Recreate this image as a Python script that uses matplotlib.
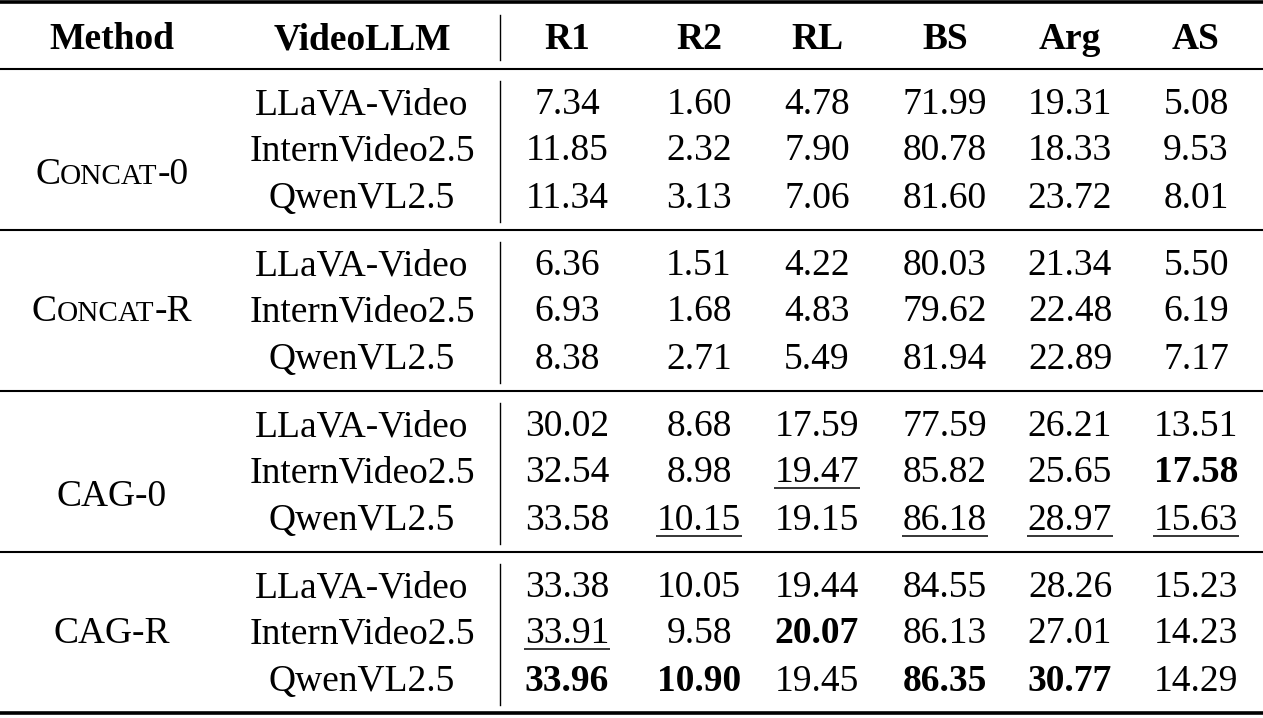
import numpy as np
import matplotlib.pyplot as plt

plt.rc('font', family='Liberation Serif')

# table contents
methods = ['CONCAT-0', 'CONCAT-R', 'CAG-0', 'CAG-R']
smallcaps = [True, True, False, False]
models = ['LLaVA-Video', 'InternVideo2.5', 'QwenVL2.5']
metrics = ['R1', 'R2', 'RL', 'BS', 'Arg', 'AS']

concat_0 = [[7.34, 1.60, 4.78, 71.99, 19.31, 5.08],
            [11.85, 2.32, 7.90, 80.78, 18.33, 9.53],
            [11.34, 3.13, 7.06, 81.60, 23.72, 8.01]]
concat_r = [[6.36, 1.51, 4.22, 80.03, 21.34, 5.50],
            [6.93, 1.68, 4.83, 79.62, 22.48, 6.19],
            [8.38, 2.71, 5.49, 81.94, 22.89, 7.17]]
cag_0 = [[30.02, 8.68, 17.59, 77.59, 26.21, 13.51],
         [32.54, 8.98, 19.47, 85.82, 25.65, 17.58],
         [33.58, 10.15, 19.15, 86.18, 28.97, 15.63]]
cag_r = [[33.38, 10.05, 19.44, 84.55, 28.26, 15.23],
         [33.91, 9.58, 20.07, 86.13, 27.01, 14.23],
         [33.96, 10.90, 19.45, 86.35, 30.77, 14.29]]

vals = np.array([concat_0, concat_r, cag_0, cag_r])   # (group, model, metric)
flat = vals.reshape(-1, len(metrics))
# best per column -> bold, second best -> underline
order = np.argsort(-flat, axis=0)
best = flat[order[0], np.arange(len(metrics))]
second = flat[order[1], np.arange(len(metrics))]

W, H = 1263, 718
fig = plt.figure(figsize=(W / 100, H / 100), dpi=100)
ax = fig.add_axes([0, 0, 1, 1])
ax.set_xlim(0, W)
ax.set_ylim(H, 0)
ax.axis('off')

fs = 27
col_x = [112, 362, 567, 699, 817, 945, 1070, 1196]
div_x = 500
header_y = 37
top_rule, head_rule, bottom_rule = 1.8, 69, 713
group_top = [69, 230, 391, 552]
row_off = [33, 79, 127]
base = 12.3   # text centre -> baseline

r = fig.canvas.get_renderer()


def put(x, y, s, bold=False, under=False, size=fs):
    t = ax.text(x, y + base, s, ha='center', va='baseline', fontsize=size,
                fontweight='bold' if bold else 'normal', color='black')
    if under:
        bb = t.get_window_extent(r)
        ax.plot([bb.x0 - 1, bb.x1 + 1], [y + base + 6, y + base + 6],
                color='black', lw=1.1, solid_capstyle='butt')
    return t


def put_sc(xc, y, s):
    # small caps: first letter full size, rest of word reduced
    word, rest = s.split('-')
    pieces = [(word[0], fs), (word[1:], fs * 0.78), ('-' + rest, fs)]
    widths = []
    for p, sz in pieces:
        t = ax.text(0, 0, p, fontsize=sz)
        widths.append(t.get_window_extent(r).width)
        t.remove()
    x = xc - sum(widths) / 2
    for (p, sz), w in zip(pieces, widths):
        ax.text(x, y + base, p, fontsize=sz, ha='left', va='baseline')
        x += w


# rules
ax.plot([0, W], [top_rule, top_rule], color='black', lw=2.6)
ax.plot([0, W], [bottom_rule, bottom_rule], color='black', lw=2.6)
for g in group_top:
    ax.plot([0, W], [g, g], color='black', lw=1.5)

# vertical divider segments
ax.plot([div_x, div_x], [15, 60], color='black', lw=1.0)
ends = group_top[1:] + [bottom_rule]
for g0, g1 in zip(group_top, ends):
    ax.plot([div_x, div_x], [g0 + 12, g1 - 8], color='black', lw=1.0)

# header
for x, s in zip(col_x, ['Method', 'VideoLLM'] + metrics):
    put(x, header_y, s, bold=True)

# body
for gi, (name, sc) in enumerate(zip(methods, smallcaps)):
    g0 = group_top[gi]
    ys = [g0 + o for o in row_off]
    if name.endswith('0'):
        ly = (ys[1] + ys[2]) / 2
    else:
        ly = ys[1]
    if sc:
        put_sc(col_x[0], ly, name)
    else:
        put(col_x[0], ly, name)
    for mi, model in enumerate(models):
        put(col_x[1], ys[mi], model)
        for ci in range(len(metrics)):
            v = vals[gi, mi, ci]
            put(col_x[2 + ci], ys[mi], f'{v:.2f}',
                bold=(v == best[ci]), under=(v == second[ci]))

fig.savefig('out.png', dpi=100)
